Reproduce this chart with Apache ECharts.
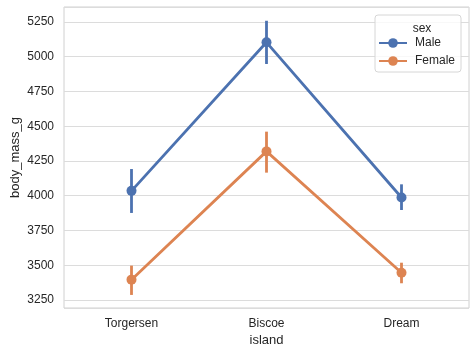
<!DOCTYPE html>
<html lang="en">
<head>
    <meta charset="UTF-8">
    <title>body_mass_g by island</title>
    <script type="text/javascript" src="https://cdn.jsdelivr.net/npm/echarts@6/dist/echarts.min.js"></script>
    <style>
        html, body { margin: 0; padding: 0; background: #fff; }
        #main { width: 474px; height: 355px; }
    </style>
</head>
<body>
<div id="main"></div>
<script>
    // data
    const islands = ['Torgersen', 'Biscoe', 'Dream'];
    const maleMean = [4035, 5104, 3987];
    const maleLow = [3876, 4948, 3897];
    const maleHigh = [4192, 5259, 4082];
    const femaleMean = [3396, 4319, 3446];
    const femaleLow = [3286, 4166, 3370];
    const femaleHigh = [3497, 4461, 3518];

    const BLUE = '#4C72B0';
    const ORANGE = '#DD8452';
    const FONT = 'Liberation Sans, Arial, sans-serif';

    function errData(low, high) {
        return low.map((v, i) => [i, v, high[i]]);
    }

    function errBar(name, color, low, high) {
        return {
            type: 'custom',
            name: name + '_ci',
            z: 2,
            silent: true,
            encode: { x: 0, y: [1, 2] },
            data: errData(low, high),
            renderItem: function (params, api) {
                const a = api.coord([api.value(0), api.value(1)]);
                const b = api.coord([api.value(0), api.value(2)]);
                return {
                    type: 'line',
                    shape: { x1: a[0], y1: a[1], x2: b[0], y2: b[1] },
                    style: { stroke: color, lineWidth: 2.8 }
                };
            }
        };
    }

    function pointLine(name, color, values) {
        return {
            type: 'line',
            name: name,
            z: 3,
            data: values,
            symbol: 'circle',
            symbolSize: 10,
            showSymbol: true,
            lineStyle: { color: color, width: 2.8 },
            itemStyle: { color: color },
            emphasis: { disabled: true }
        };
    }

    const chart = echarts.init(document.getElementById('main'));
    const option = {
        animation: false,
        color: [BLUE, ORANGE],
        textStyle: { fontFamily: FONT },
        grid: {
            left: 64, right: 5, top: 7, bottom: 47,
            outerBoundsMode: 'none',
            containLabel: false,
            show: true,
            borderColor: '#d0d0d0',
            borderWidth: 1
        },
        title: {
            text: 'sex',
            left: 417,
            top: 18,
            textAlign: 'center',
            textStyle: { fontSize: 12, fontWeight: 'normal', color: '#262626', fontFamily: FONT }
        },
        legend: {
            data: ['Male', 'Female'],
            orient: 'vertical',
            left: 375,
            top: 15,
            padding: [22, 6, 5, 3],
            itemWidth: 28,
            itemHeight: 12,
            itemGap: 6,
            borderColor: '#d6d6d6',
            borderWidth: 1,
            borderRadius: 3,
            backgroundColor: 'rgba(255,255,255,0.8)',
            textStyle: { fontSize: 12, color: '#262626', padding: [0, 0, 0, 3], fontFamily: FONT }
        },
        xAxis: {
            type: 'category',
            data: islands,
            name: 'island',
            nameLocation: 'middle',
            nameGap: 26,
            nameMoveOverlap: false,
            nameTextStyle: { fontSize: 13, color: '#262626' },
            axisLine: { show: false },
            axisTick: { show: false },
            axisLabel: { fontSize: 12, color: '#262626', margin: 10 },
            splitLine: { show: false }
        },
        yAxis: {
            type: 'value',
            min: 3192,
            max: 5358,
            minInterval: 250,
            maxInterval: 250,
            name: 'body_mass_g',
            nameLocation: 'middle',
            nameGap: 42,
            nameMoveOverlap: false,
            nameTextStyle: { fontSize: 13, color: '#262626' },
            axisLine: { show: false },
            axisTick: { show: false },
            axisLabel: {
                fontSize: 12, color: '#262626', margin: 10,
                showMinLabel: false, showMaxLabel: false,
                formatter: function (v) { return String(v); }
            },
            splitLine: { lineStyle: { color: '#dcdcdc', width: 1 } }
        },
        series: [
            errBar('Male', BLUE, maleLow, maleHigh),
            errBar('Female', ORANGE, femaleLow, femaleHigh),
            pointLine('Male', BLUE, maleMean),
            pointLine('Female', ORANGE, femaleMean)
        ]
    };
    chart.setOption(option);
</script>
</body>
</html>
